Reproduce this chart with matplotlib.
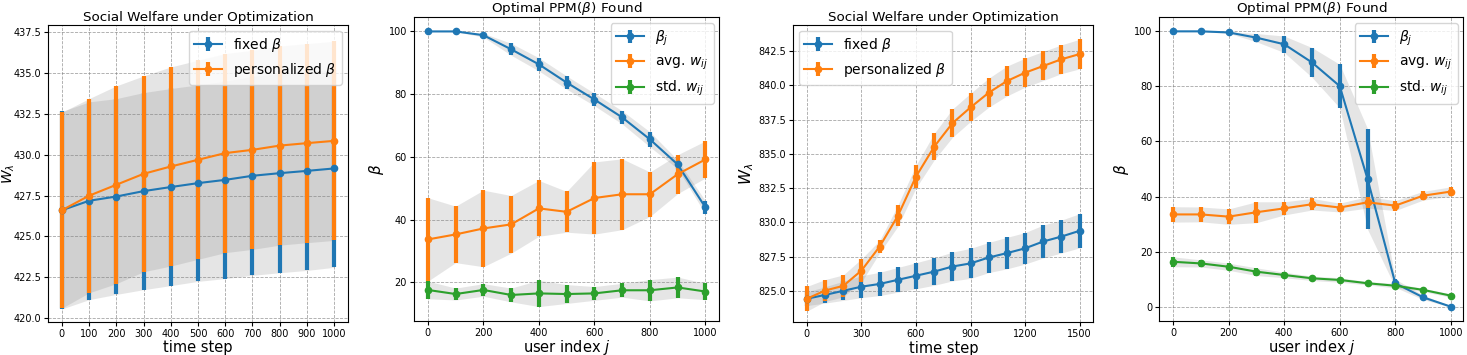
import matplotlib as mpl
import matplotlib.pyplot as plt
import numpy as np

mpl.use("Agg")

# ---- data ----
steps_a = np.arange(0, 1001, 100)
fixed_a = [426.6, 427.18, 427.44, 427.77, 428.02, 428.26, 428.46, 428.71, 428.87, 429.01, 429.16]
fixed_a_err = [6.05, 6.06, 6.0, 6.04, 6.04, 6.02, 6.05, 6.1, 6.1, 6.1, 6.06]
pers_a = [426.6, 427.49, 428.16, 428.83, 429.28, 429.69, 430.1, 430.3, 430.56, 430.71, 430.85]
pers_a_err = [6.0, 5.95, 6.06, 6.0, 6.1, 6.1, 6.1, 6.1, 6.1, 6.1, 6.1]

users = np.arange(0, 1001, 100)
beta_b = [100, 100, 98.8, 94.3, 89.5, 83.7, 78.3, 72.6, 65.6, 57.6, 43.9]
beta_b_err = [0.1, 0.1, 0.6, 1.9, 2.1, 2.1, 2.0, 2.1, 2.4, 1.4, 2.1]
avg_b = [33.7, 35.3, 37.2, 38.5, 43.6, 42.5, 46.9, 48.1, 48.1, 54.5, 59.2]
avg_b_err = [13.3, 9.0, 12.2, 9.2, 8.9, 6.5, 11.5, 11.3, 7.1, 6.2, 5.9]
std_b = [17.6, 16.3, 17.6, 16.0, 16.5, 16.3, 16.5, 17.5, 17.5, 18.4, 17.1]
std_b_err = [2.8, 1.9, 2.0, 2.2, 4.2, 3.0, 2.2, 2.2, 3.4, 3.3, 2.6]

steps_c = np.arange(0, 1501, 100)
fixed_c = [824.42, 824.7, 825.0, 825.3, 825.5, 825.8, 826.1, 826.4, 826.77, 827.0,
           827.43, 827.75, 828.1, 828.6, 828.96, 829.38]
fixed_c_err = [0.5, 0.6, 0.7, 0.8, 0.85, 0.9, 0.95, 1.0, 1.05, 1.1, 1.1, 1.15, 1.15, 1.2, 1.2, 1.25]
pers_c = [824.42, 825.02, 825.36, 826.48, 828.23, 830.47, 833.34, 835.52, 837.23, 838.39,
          839.46, 840.31, 840.92, 841.41, 841.9, 842.28]
pers_c_err = [0.9, 0.8, 0.8, 0.85, 0.45, 0.77, 0.83, 0.97, 1.03, 1.03, 1.06, 1.09, 1.06, 1.06, 1.05, 1.08]

beta_d = [100, 100, 99.6, 97.7, 95.3, 88.7, 80.1, 46.4, 8.5, 3.4, 0.0]
beta_d_err = [0.1, 0.1, 0.3, 1.5, 3.0, 5.4, 7.9, 18.3, 1.5, 0.8, 0.2]
avg_d = [33.5, 33.5, 32.7, 34.3, 35.7, 37.2, 36.0, 37.9, 36.7, 40.3, 41.8]
avg_d_err = [2.8, 2.7, 2.8, 3.8, 2.4, 2.1, 1.6, 2.1, 1.8, 1.6, 1.7]
std_d = [16.3, 15.7, 14.5, 12.7, 11.5, 10.3, 9.7, 8.5, 7.6, 6.1, 4.0]
std_d_err = [1.8, 1.3, 1.3, 1.4, 1.0, 0.8, 0.8, 0.6, 0.8, 0.6, 0.6]

W, H = 1467, 355
fig = plt.figure(figsize=(W / 100, H / 100), dpi=100)


def box(l, r, t, b):
    return [l / W, 1 - b / H, (r - l) / W, (b - t) / H]


def series(ax, x, y, e, label, color):
    y = np.asarray(y)
    e = np.asarray(e)
    ax.fill_between(x, y - e, y + e, color="gray", alpha=0.2, linewidth=0)
    ax.errorbar(x, y, yerr=e, color=color, marker="o", markersize=4.5,
                linewidth=1.5, elinewidth=3, capsize=0, label=label)


def style(ax, title, xlabel, ylabel, xpad=1, ysize=11):
    ax.set_title(title, fontsize=9.7, pad=3)
    ax.set_xlabel(xlabel, fontsize=10.5, labelpad=xpad)
    ax.set_ylabel(ylabel, fontsize=ysize, labelpad=2)
    ax.tick_params(labelsize=7, length=3, pad=2)
    ax.grid(True, linestyle="--", color="gray", linewidth=0.6, alpha=0.7)


ax1 = fig.add_axes(box(48.3, 347.7, 25, 322))
series(ax1, steps_a, fixed_a, fixed_a_err, r"fixed $\beta$", "tab:blue")
series(ax1, steps_a, pers_a, pers_a_err, r"personalized $\beta$", "tab:orange")
ax1.set_xlim(-50, 1050)
ax1.set_ylim(419.75, 437.95)
ax1.set_xticks(steps_a)
ax1.set_yticks(np.arange(420, 437.6, 2.5))
style(ax1, "Social Welfare under Optimization", "time step", r"$W_\lambda$", ysize=10)
ax1.yaxis.set_label_coords(-0.104, 0.5)
ax1.legend(loc="upper right", fontsize=10, borderaxespad=0.4)

ax2 = fig.add_axes(box(414, 719.3, 17.3, 320.7))
series(ax2, users, beta_b, beta_b_err, r"$\beta_j$", "tab:blue")
series(ax2, users, avg_b, avg_b_err, r"avg. $w_{ij}$", "tab:orange")
series(ax2, users, std_b, std_b_err, r"std. $w_{ij}$", "tab:green")
ax2.set_xlim(-50, 1050)
ax2.set_ylim(7.8, 104.5)
ax2.set_yticks([20, 40, 60, 80, 100])
style(ax2, r"Optimal PPM($\beta$) Found", r"user index $j$", r"$\beta$", xpad=0)
ax2.legend(loc="upper right", fontsize=10, borderaxespad=0.4)

ax3 = fig.add_axes(box(793.3, 1093.3, 25, 322.3))
series(ax3, steps_c, fixed_c, fixed_c_err, r"fixed $\beta$", "tab:blue")
series(ax3, steps_c, pers_c, pers_c_err, r"personalized $\beta$", "tab:orange")
ax3.set_xlim(-75, 1575)
ax3.set_ylim(822.7, 844.4)
ax3.set_xticks(np.arange(0, 1501, 300))
ax3.set_yticks(np.arange(825, 842.6, 2.5))
style(ax3, "Social Welfare under Optimization", "time step", r"$W_\lambda$")
ax3.legend(loc="upper left", fontsize=10, borderaxespad=0.4)

ax4 = fig.add_axes(box(1159.3, 1463.3, 17.3, 320.7))
series(ax4, users, beta_d, beta_d_err, r"$\beta_j$", "tab:blue")
series(ax4, users, avg_d, avg_d_err, r"avg. $w_{ij}$", "tab:orange")
series(ax4, users, std_d, std_d_err, r"std. $w_{ij}$", "tab:green")
ax4.set_xlim(-50, 1045)
ax4.set_ylim(-5.1, 105.1)
ax4.set_yticks([0, 20, 40, 60, 80, 100])
style(ax4, r"Optimal PPM($\beta$) Found", r"user index $j$", r"$\beta$", xpad=0)
ax4.legend(loc="upper right", fontsize=10, borderaxespad=0.4)

fig.savefig("out.png", dpi=100)
